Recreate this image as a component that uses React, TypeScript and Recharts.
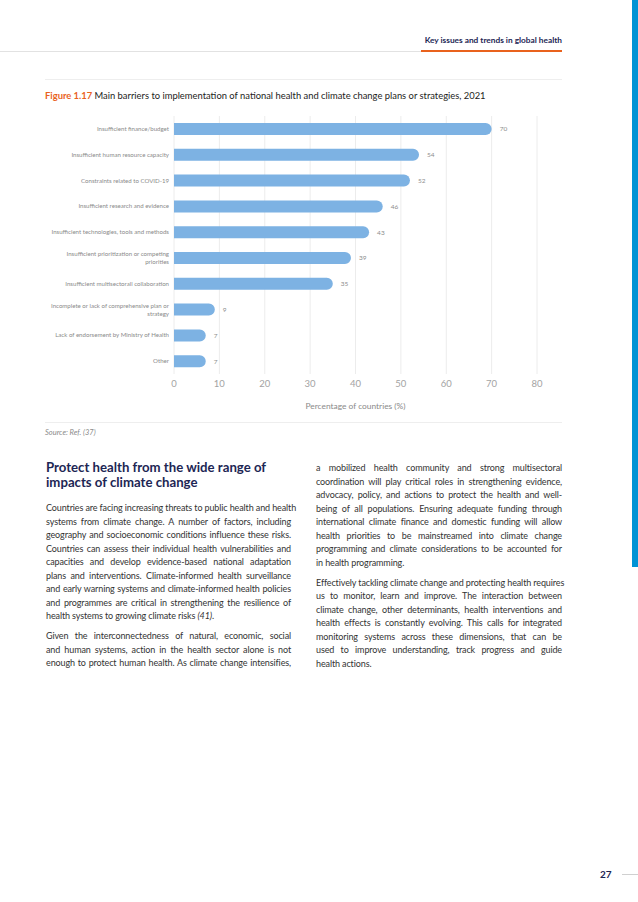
import React from "react";
import { BarChart, Bar, XAxis, YAxis, CartesianGrid, LabelList } from "recharts";

const barriers = [
  "Insufficient finance/budget",
  "Insufficient human resource capacity",
  "Constraints related to COVID-19",
  "Insufficient research and evidence",
  "Insufficient technologies, tools and methods",
  "Insufficient prioritization or competing\npriorities",
  "Insufficient multisectorall collaboration",
  "Incomplete or lack of comprehensive plan or\nstrategy",
  "Lack of endorsement by Ministry of Health",
  "Other",
];
const percentages = [70, 54, 52, 46, 43, 39, 35, 9, 7, 7];
const xTicks = [0, 10, 20, 30, 40, 50, 60, 70, 80];

const chartData = barriers.map((name, i) => ({ name, value: percentages[i] }));

const NAVY = "#1d2654";
const BODY = "#333333";
const FONT = "Lato, sans-serif";

function BarrierTick(props: any) {
  const { x, y, payload } = props;
  const lines = String(payload.value).split("\n");
  const start = -((lines.length - 1) * 8) / 2;
  return (
    <text x={x} y={y} textAnchor="end" fontSize={6.1} fill="#8a8a8a" fontFamily={FONT}>
      {lines.map((l, i) => (
        <tspan key={i} x={x} y={y + start + i * 8} dy="0.35em">
          {l}
        </tspan>
      ))}
    </text>
  );
}

// one paragraph = list of lines, justified except the closing one
type Para = { lines: React.ReactNode[]; closed: boolean };

const leftParas: Para[] = [
  {
    lines: [
      "Countries are facing increasing threats to public health and health",
      "systems from climate change. A number of factors, including",
      "geography and socioeconomic conditions influence these risks.",
      "Countries can assess their individual health vulnerabilities and",
      "capacities and develop evidence-based national adaptation",
      "plans and interventions. Climate-informed health surveillance",
      "and early warning systems and climate-informed health policies",
      "and programmes are critical in strengthening the resilience of",
      <>health systems to growing climate risks <i>(41)</i>.</>,
    ],
    closed: true,
  },
  {
    lines: [
      "Given the interconnectedness of natural, economic, social",
      "and human systems, action in the health sector alone is not",
      "enough to protect human health. As climate change intensifies,",
    ],
    closed: false,
  },
];

const rightParas: Para[] = [
  {
    lines: [
      "a mobilized health community and strong multisectoral",
      "coordination will play critical roles in strengthening evidence,",
      "advocacy, policy, and actions to protect the health and well-",
      "being of all populations. Ensuring adequate funding through",
      "international climate finance and domestic funding will allow",
      "health priorities to be mainstreamed into climate change",
      "programming and climate considerations to be accounted for",
      "in health programming.",
    ],
    closed: true,
  },
  {
    lines: [
      "Effectively tackling climate change and protecting health requires",
      "us to monitor, learn and improve. The interaction between",
      "climate change, other determinants, health interventions and",
      "health effects is constantly evolving. This calls for integrated",
      "monitoring systems across these dimensions, that can be",
      "used to improve understanding, track progress and guide",
      "health actions.",
    ],
    closed: true,
  },
];

const LINE = 13.5;
const PARA_GAP = 20;

function Column({ paras, left, width, firstY }: { paras: Para[]; left: number; width: number; firstY: number }) {
  const out: React.ReactNode[] = [];
  let y = firstY;
  paras.forEach((p, pi) => {
    p.lines.forEach((line, li) => {
      const isLast = li === p.lines.length - 1 && p.closed;
      out.push(
        <div
          key={`${pi}-${li}`}
          style={{
            position: "absolute",
            left,
            top: y - LINE / 2,
            width,
            height: LINE,
            lineHeight: `${LINE}px`,
            fontSize: 9,
            letterSpacing: -0.12,
            color: BODY,
            textAlign: "justify",
            textAlignLast: isLast ? "left" : "justify",
            whiteSpace: "nowrap",
            overflow: "visible",
          }}
        >
          {line}
        </div>
      );
      y += LINE;
    });
    y += PARA_GAP - LINE;
  });
  return <>{out}</>;
}

export default function App() {
  return (
    <div
      style={{
        position: "absolute",
        left: 0,
        top: 0,
        width: 638,
        height: 902,
        background: "#fff",
        overflow: "hidden",
        fontFamily: FONT,
      }}
    >
      {/* page header */}
      <div
        style={{
          position: "absolute",
          right: 638 - 562,
          top: 34,
          lineHeight: "12px",
          fontSize: 8.3,
          fontWeight: 700,
          color: NAVY,
          whiteSpace: "nowrap",
        }}
      >
        Key issues and trends in global health
      </div>
      <div style={{ position: "absolute", left: 0, top: 51, width: 421, height: 1, background: "#e2e2e2" }} />
      <div style={{ position: "absolute", left: 421, top: 50, width: 141, height: 2, background: "#e9621d" }} />
      <div style={{ position: "absolute", left: 632, top: 0, width: 6, height: 567, background: "#0093d5" }} />

      {/* figure */}
      <div style={{ position: "absolute", left: 45, top: 79, width: 517, height: 1, background: "#eeeeee" }} />
      <div
        style={{
          position: "absolute",
          left: 45,
          top: 90,
          lineHeight: "12px",
          fontSize: 9.4,
          color: "#1d1d1b",
          whiteSpace: "nowrap",
        }}
      >
        <span style={{ color: "#e9621d", fontWeight: 700 }}>Figure 1.17</span> Main barriers to implementation of
        national health and climate change plans or strategies, 2021
      </div>

      <div style={{ position: "absolute", left: 0, top: 100 }}>
        <BarChart
          width={580}
          height={318}
          data={chartData}
          layout="vertical"
          margin={{ top: 16, right: 43, bottom: 0, left: 0 }}
        >
          <CartesianGrid horizontal={false} stroke="#ececec" />
          <XAxis
            type="number"
            domain={[0, 80]}
            ticks={xTicks}
            axisLine={false}
            tickLine={false}
            tickSize={0}
            tickMargin={6}
            height={44}
            tick={{ fontSize: 9.5, fill: "#a3a3a3", fontFamily: FONT }}
            label={{
              value: "Percentage of countries (%)",
              position: "insideBottom",
              offset: 9,
              fontSize: 8.4,
              fill: "#8a8a8a",
              fontFamily: FONT,
            }}
          />
          <YAxis
            type="category"
            dataKey="name"
            width={174}
            axisLine={false}
            tickLine={false}
            tickSize={0}
            tickMargin={5}
            interval={0}
            tick={<BarrierTick />}
          />
          <Bar dataKey="value" fill="#7db2e3" barSize={12} radius={[0, 6, 6, 0]} isAnimationActive={false}>
            <LabelList dataKey="value" position="right" offset={8} fontSize={6.5} fill="#8c8c8c" fontFamily={FONT} />
          </Bar>
        </BarChart>
      </div>

      <div style={{ position: "absolute", left: 45, top: 422, width: 517, height: 1, background: "#eeeeee" }} />
      <div
        style={{
          position: "absolute",
          left: 45,
          top: 428,
          lineHeight: "10px",
          fontSize: 7.5,
          fontStyle: "italic",
          color: "#8a8a8a",
        }}
      >
        Source: Ref. (37)
      </div>

      {/* body text */}
      <div
        style={{
          position: "absolute",
          left: 46,
          top: 459.5,
          lineHeight: "15px",
          fontSize: 13.2,
          fontWeight: 700,
          color: NAVY,
          whiteSpace: "nowrap",
        }}
      >
        Protect health from the wide range of
        <br />
        impacts of climate change
      </div>
      <Column paras={leftParas} left={46} width={245} firstY={508} />
      <Column paras={rightParas} left={316} width={246} firstY={468} />

      {/* folio */}
      <div
        style={{
          position: "absolute",
          left: 600,
          top: 868,
          lineHeight: "12px",
          fontSize: 10,
          fontWeight: 700,
          color: NAVY,
        }}
      >
        27
      </div>
      <div style={{ position: "absolute", left: 622, top: 874, width: 16, height: 1, background: "#d0d0d0" }} />
    </div>
  );
}
